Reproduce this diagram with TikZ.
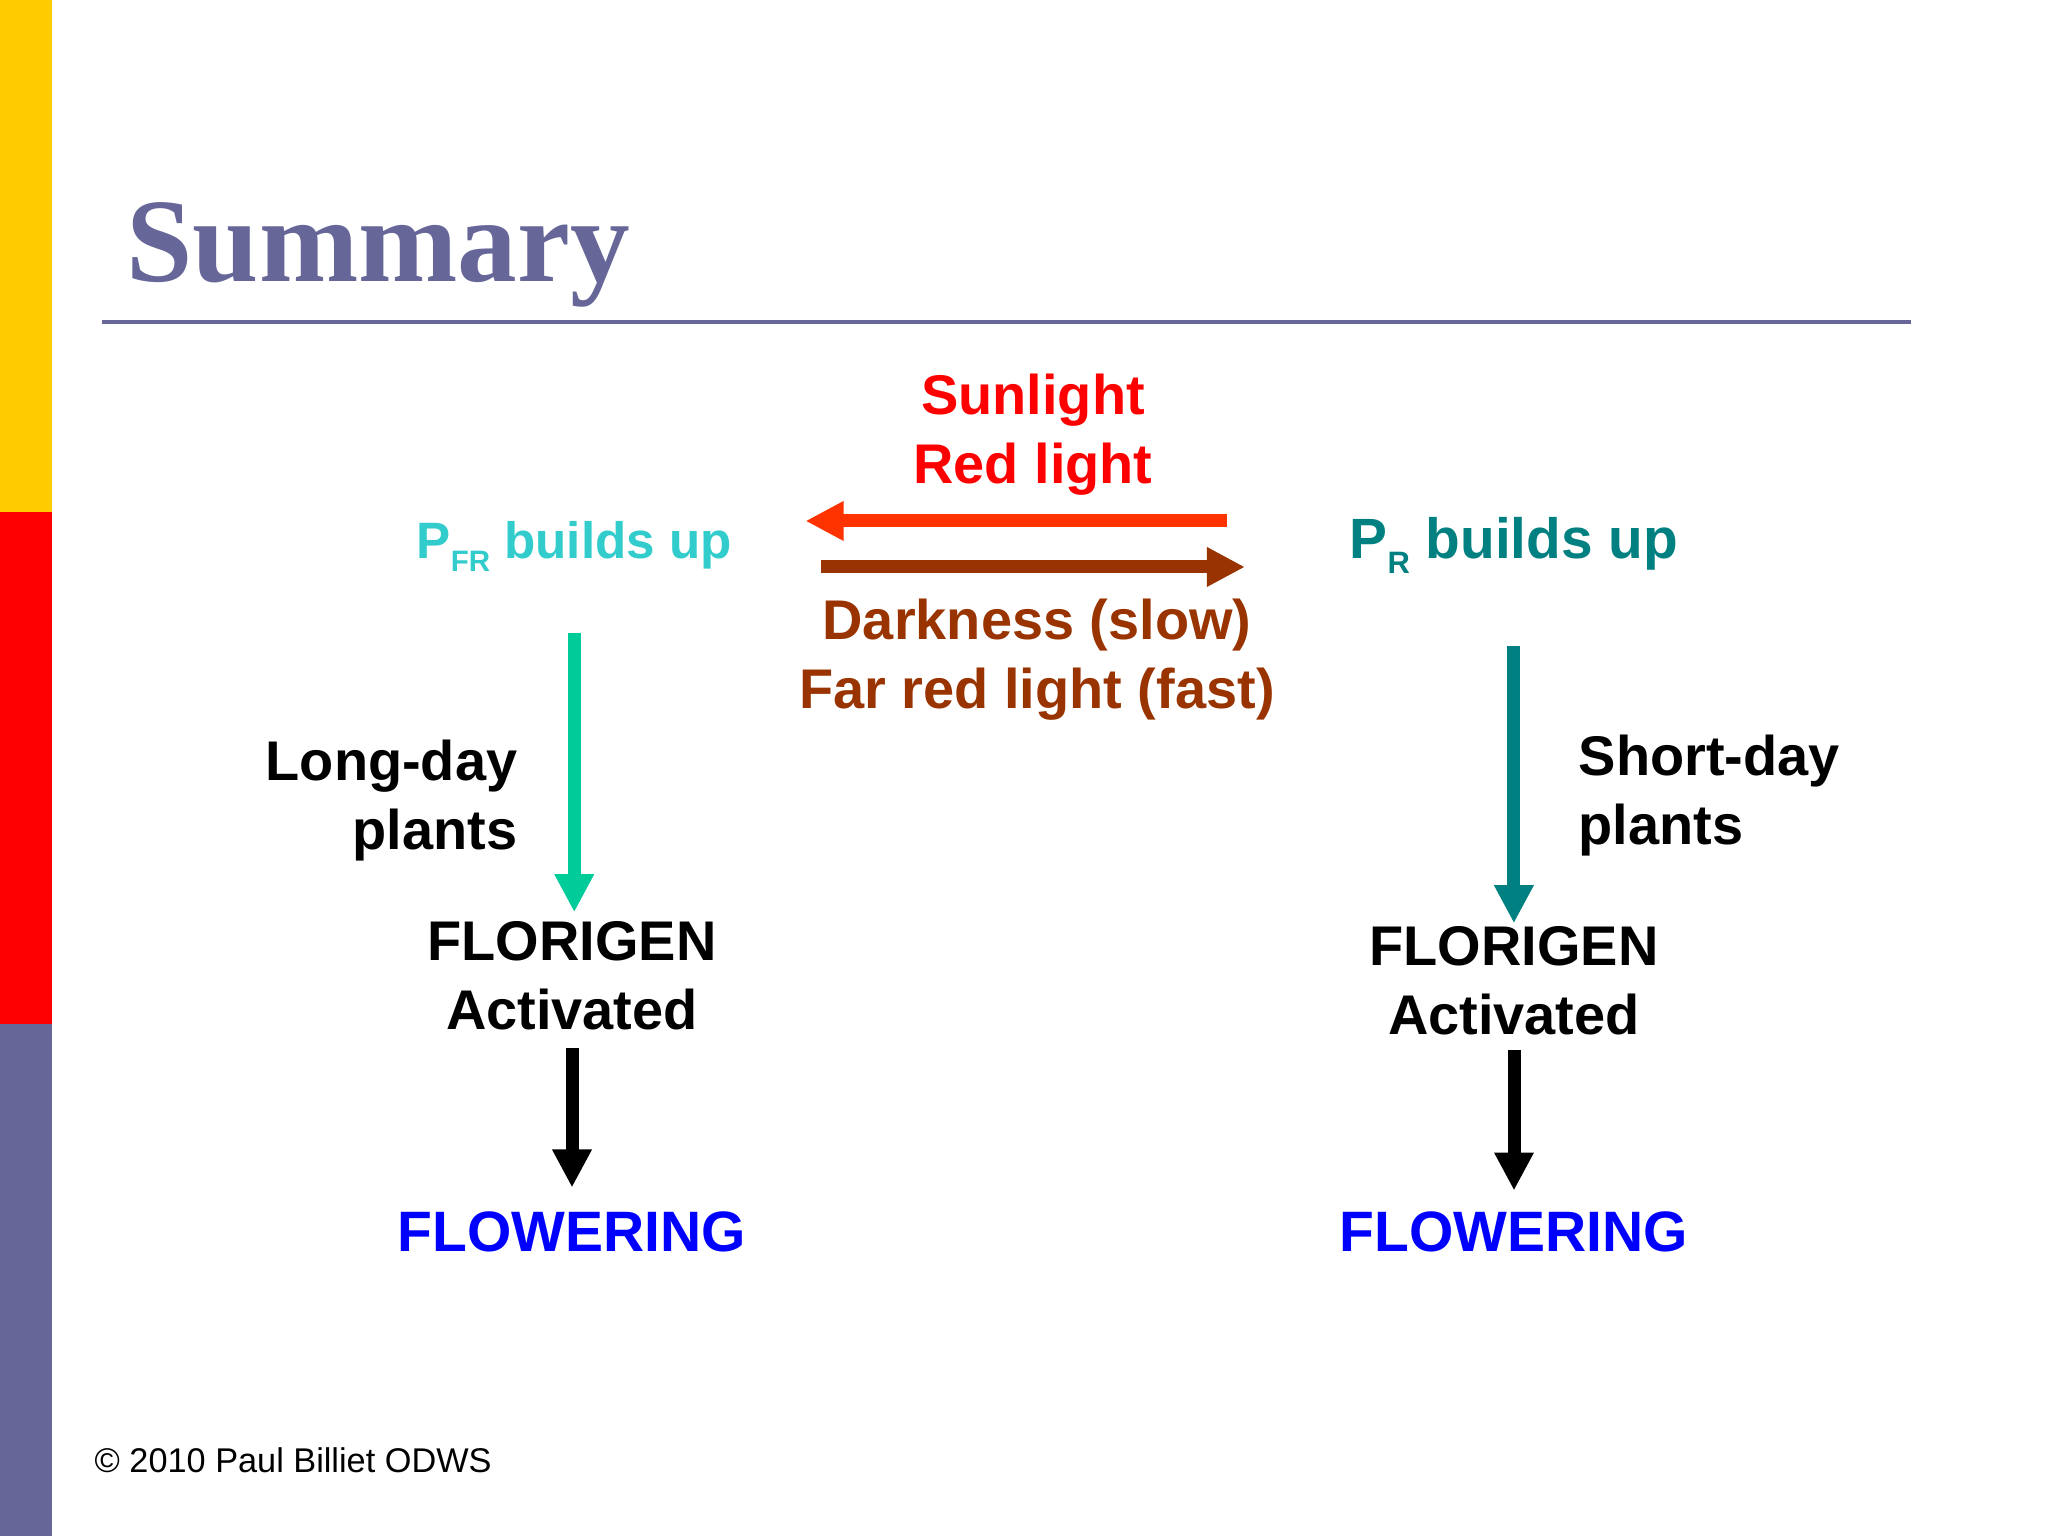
\documentclass[tikz,border=0pt]{standalone}
\usepackage{fontspec}
\setmainfont{Liberation Sans}
\newfontfamily\titlefont{Liberation Serif}
\usetikzlibrary{arrows.meta}

\definecolor{baryellow}{RGB}{255,204,0}
\definecolor{barred}{RGB}{255,0,0}
\definecolor{slidepurple}{RGB}{102,102,153}
\definecolor{pfrcyan}{RGB}{51,204,204}
\definecolor{prteal}{RGB}{0,128,128}
\definecolor{lightred}{RGB}{255,0,0}
\definecolor{redarrow}{RGB}{255,51,0}
\definecolor{darkbrown}{RGB}{153,51,0}
\definecolor{longgreen}{RGB}{0,204,153}
\definecolor{flowerblue}{RGB}{0,0,255}

\newcommand{\lowsub}[3]{\raisebox{-#1}{\fontsize{#2}{#2}\selectfont #3}}

\tikzset{
    bigtext/.style = {
        inner sep = 0,
        font = \bfseries\fontsize{15.9pt}{19.35pt}\selectfont
    },
    fatarrow/.style = {
        line width = 0.13cm,
        -{Triangle[length=0.38cm, width=0.37cm]}
    }
}

\begin{document}
\begin{tikzpicture}[x=0.01cm, y=-0.01cm]

    \useasboundingbox[fill=white] (0,0) rectangle (2048,1536);

    % Side bar
    \fill[baryellow] (0,0) rectangle (52,512);
    \fill[barred] (0,512) rectangle (52,1024);
    \fill[slidepurple] (0,1024) rectangle (52,1536);

    % Title
    \node[anchor=base west, inner sep=0, text=slidepurple,
        font=\titlefont\bfseries\fontsize{33.9pt}{40pt}\selectfont] (title) at (126,281) {Summary};
    \draw[slidepurple, line width=0.04cm] (102,322) -- (1911,322);

    % Phytochrome forms
    \node[bigtext, anchor=base west, text=pfrcyan,
        font=\bfseries\fontsize{14.55pt}{17pt}\selectfont] (pfr) at (416,558) {P\lowsub{3.7pt}{8.4pt}{FR} builds up};
    \node[bigtext, anchor=base west, text=prteal,
        font=\bfseries\fontsize{16.15pt}{19pt}\selectfont] (pr) at (1349,558) {P\lowsub{4.3pt}{8.8pt}{R} builds up};

    % Conversion labels (base = last line)
    \node[bigtext, align=center, anchor=base, text=lightred] (sunlight) at (1033,483) {Sunlight\\Red light};
    \node[bigtext, align=center, anchor=base, text=darkbrown] (darkness) at (1037,708) {Darkness (slow)\\Far red light (fast)};

    % Plant types
    \node[bigtext, align=right, anchor=base east] (longday) at (518,849) {Long-day\\plants};
    \node[bigtext, align=left, anchor=base west] (shortday) at (1578,844) {Short-day\\plants};

    % Florigen
    \node[bigtext, align=center, anchor=base] (florigen1) at (572,1029) {FLORIGEN\\Activated};
    \node[bigtext, align=center, anchor=base] (florigen2) at (1514,1034) {FLORIGEN\\Activated};

    % Flowering
    \node[bigtext, anchor=base, text=flowerblue, font=\bfseries\fontsize{16.2pt}{19pt}\selectfont] (flowering1) at (572,1251) {FLOWERING};
    \node[bigtext, anchor=base, text=flowerblue, font=\bfseries\fontsize{16.2pt}{19pt}\selectfont] (flowering2) at (1514,1251) {FLOWERING};

    % Copyright
    \node[anchor=base west, inner sep=0, font=\fontsize{9.75pt}{11pt}\selectfont] (copyright) at (94,1472) {© 2010 Paul Billiet ODWS};

    % Arrows
    \coordinate (redtail) at ([yshift=0.24cm]pr.west);
    \coordinate (browntail) at ([yshift=-0.21cm]pfr.east);
    \draw[fatarrow, redarrow, shorten <=1.22cm, shorten >=0.73cm] (redtail) -- (redtail -| pfr.east);
    \draw[fatarrow, darkbrown, shorten <=0.88cm, shorten >=1.04cm] (browntail) -- (browntail -| pr.west);
    \draw[fatarrow, longgreen, shorten <=0.61cm, shorten >=0.09cm] (pfr.south) -- (pfr.south |- florigen1.north);
    \draw[fatarrow, prteal, shorten <=0.72cm, shorten >=0.03cm] (pr.south) -- (pr.south |- florigen2.north);
    \draw[fatarrow, black, shorten <=0.18cm, shorten >=0.23cm] (florigen1.south) -- (flowering1.north);
    \draw[fatarrow, black, shorten <=0.15cm, shorten >=0.20cm] (florigen2.south) -- (flowering2.north);

\end{tikzpicture}
\end{document}
